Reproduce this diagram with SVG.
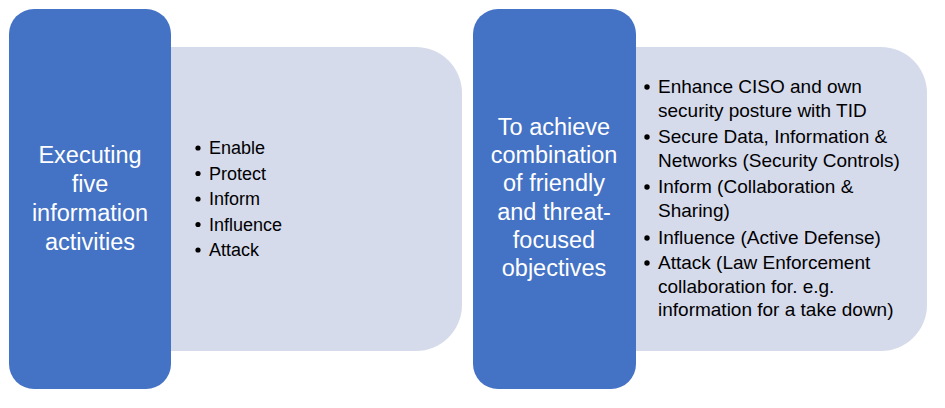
<svg xmlns="http://www.w3.org/2000/svg" width="945" height="408" viewBox="0 0 945 408">
<style>
.panel{fill:#D6DBEC}
.head{fill:#4472C4}
.ht{font-family:"Liberation Sans",Arial,sans-serif;font-size:23.5px;fill:#fff;text-anchor:middle}
.lt{font-family:"Liberation Sans",Arial,sans-serif;font-size:18px;fill:#000}
.rt{font-family:"Liberation Sans",Arial,sans-serif;font-size:19px;fill:#000}
.dot{fill:#000}
</style>
<rect width="945" height="408" fill="#fff"/>
<g id="panel1">
<path class="panel" d="M150,47 H416 A46,46 0 0 1 462,93 V305 A46,46 0 0 1 416,351 H150 Z"/>
<g class="lt">
<circle class="dot" cx="198" cy="148" r="2.6"/><text x="209" y="154">Enable</text>
<circle class="dot" cx="198" cy="173.5" r="2.6"/><text x="209" y="179.5">Protect</text>
<circle class="dot" cx="198" cy="199" r="2.6"/><text x="209" y="205">Inform</text>
<circle class="dot" cx="198" cy="224.5" r="2.6"/><text x="209" y="230.5">Influence</text>
<circle class="dot" cx="198" cy="250" r="2.6"/><text x="209" y="256">Attack</text>
</g>
</g>
<g id="head1">
<rect class="head" x="9" y="9" width="162" height="380" rx="25" ry="25"/>
<text class="ht"><tspan x="90" y="163">Executing</tspan><tspan x="90" y="192">five</tspan><tspan x="90" y="221">information</tspan><tspan x="90" y="250">activities</tspan></text>
</g>
<g id="panel2">
<path class="panel" d="M620,47 H881 A46,46 0 0 1 927,93 V305 A46,46 0 0 1 881,351 H620 Z"/>
<g class="rt">
<circle class="dot" cx="647" cy="87" r="2.7"/><text x="658" y="93">Enhance CISO and own</text>
<text x="658" y="117">security posture with TID</text>
<circle class="dot" cx="647" cy="137" r="2.7"/><text x="658" y="143">Secure Data, Information &amp;</text>
<text x="658" y="167">Networks (Security Controls)</text>
<circle class="dot" cx="647" cy="187" r="2.7"/><text x="658" y="193">Inform (Collaboration &amp;</text>
<text x="658" y="217">Sharing)</text>
<circle class="dot" cx="647" cy="238" r="2.7"/><text x="658" y="244">Influence (Active Defense)</text>
<circle class="dot" cx="647" cy="263" r="2.7"/><text x="658" y="269">Attack (Law Enforcement</text>
<text x="658" y="292.5">collaboration for. e.g.</text>
<text x="658" y="316">information for a take down)</text>
</g>
</g>
<g id="head2">
<rect class="head" x="473" y="9" width="163" height="380" rx="25" ry="25"/>
<text class="ht"><tspan x="554" y="135">To achieve</tspan><tspan x="554" y="163">combination</tspan><tspan x="554" y="191">of friendly</tspan><tspan x="554" y="220">and threat-</tspan><tspan x="554" y="248">focused</tspan><tspan x="554" y="276">objectives</tspan></text>
</g>
<g id="connectors"/>
</svg>
